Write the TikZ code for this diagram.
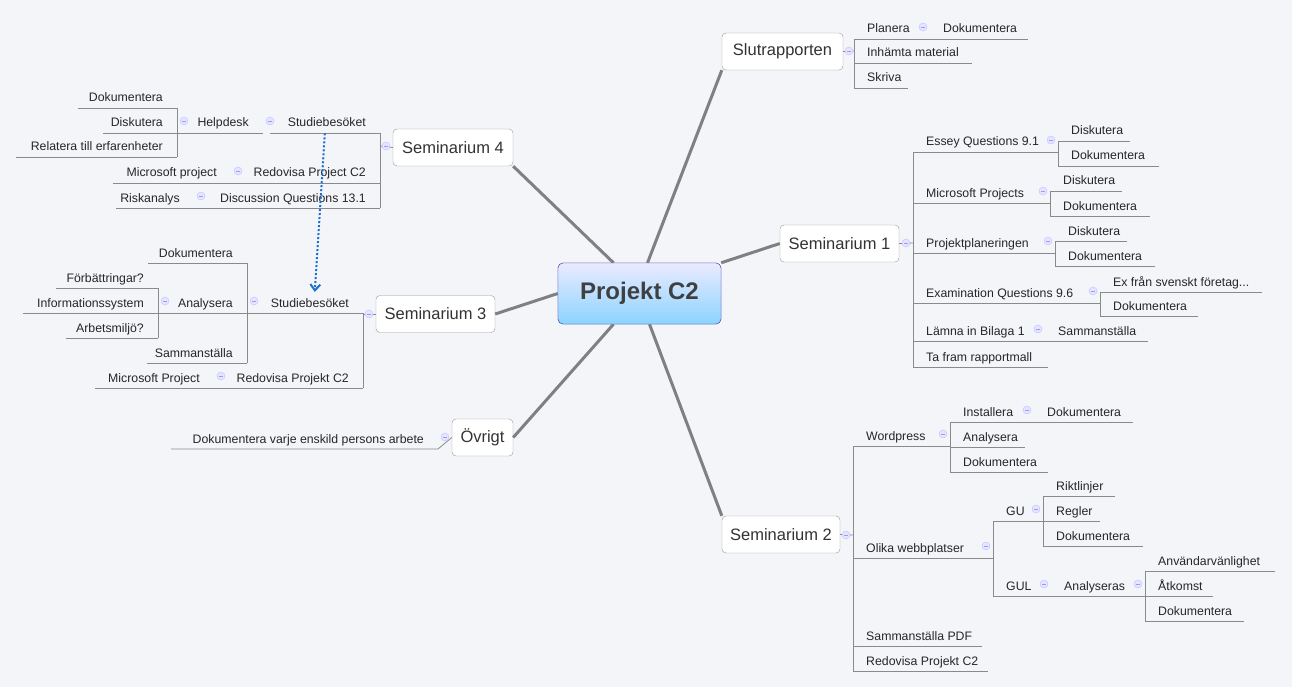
\documentclass[tikz,border=0pt]{standalone}
\usepackage{fontspec}
\setmainfont{Liberation Sans}
\usetikzlibrary{positioning,calc,arrows.meta}
\definecolor{bgcol}{HTML}{F4F5F9}
\definecolor{linecol}{HTML}{8A8A8A}
\definecolor{mapblue}{HTML}{1A6FCF}
\tikzstyle{leaf} = [inner sep=0pt, font=\fontsize{12.3}{14}\selectfont, text=black!85]
\tikzstyle{branch} = [draw=linecol, line width=0.8pt]
\tikzstyle{main} = [draw=gray!80, fill=white, rounded corners=4pt, font=\fontsize{16.5}{19}\selectfont, text=black!80, minimum height=37pt]
\tikzstyle{trunk} = [draw=gray, line width=3pt]
\tikzset{marker/.style={circle, draw=blue!25, fill=blue!10, minimum size=8pt, inner sep=0pt,
    path picture={\draw[blue!40, line width=0.6pt] ($(path picture bounding box.west)+(2pt,0)$) -- ($(path picture bounding box.east)+(-2pt,0)$);}}}
% topic to the right: name, x of vertical, y of line, x of end, text
\newcommand{\topR}[5]{%
    \draw[branch] (#2,#3) -- (#4,#3);
    \node[leaf, anchor=base west] (#1) at (#2+13,#3-6) {#5};}
% topic to the left
\newcommand{\topL}[5]{%
    \draw[branch] (#2,#3) -- (#4,#3);
    \node[leaf, anchor=base east] (#1) at (#2-14,#3-6) {#5};}
\newcommand{\vbar}[3]{\draw[branch] (#1,#2) -- (#1,#3);}
\newcommand{\mkR}[3]{\node[marker] (#1) at (#2-7,#3-12) {};}
\newcommand{\mkL}[3]{\node[marker] (#1) at (#2+7,#3-12) {};}

\begin{document}
\begin{tikzpicture}[x=1pt, y=-1pt]
    \fill[bgcol] (0,0) rectangle (1292,687);
    \useasboundingbox (0,0) rectangle (1292,687);

    % centre and main topics
    \node [draw=blue!45!gray, rounded corners=5pt, top color=blue!8, bottom color=blue!38!cyan!45,
        minimum width=163pt, minimum height=61pt, font=\fontsize{24}{28}\selectfont\bfseries, text=black!75] (root) at (639.5,293.5) {Projekt C2};
    \node [main, minimum width=121pt] (slut) at (782.5,51.5) {Slutrapporten};
    \node [main, minimum width=119pt] (sem1) at (839.5,243.5) {Seminarium 1};
    \node [main, minimum width=118pt] (sem2) at (781,534.5) {Seminarium 2};
    \node [main, minimum width=61pt] (ovr) at (482.5,437.5) {Övrigt};
    \node [main, minimum width=119pt] (sem3) at (435.5,314) {Seminarium 3};
    \node [main, minimum width=120pt] (sem4) at (453,147.5) {Seminarium 4};

    \begin{scope}[on background layer/.try]
    \draw [trunk] ($(root.north)+(8,0)$) -- (slut.south west);
    \draw [trunk] (root.north east) -- (sem1.west);
    \draw [trunk] ($(root.south)+(10,0)$) -- (sem2.north west);
    \draw [trunk] ($(root.south)+(-26,0)$) -- (ovr.east);
    \draw [trunk] (root.west) -- (sem3.east);
    \draw [trunk] ($(root.north)+(-26,0)$) -- (sem4.south east);
    \end{scope}
    \node [draw=gray!80, fill=white, rounded corners=5pt, minimum width=163pt, minimum height=61pt, opacity=0] at (root) {};
    \node [draw=blue!45!gray, rounded corners=5pt, top color=blue!8, bottom color=blue!38!cyan!45,
        minimum width=163pt, minimum height=61pt, font=\fontsize{24}{28}\selectfont\bfseries, text=black!75] at (root) {Projekt C2};

    % Slutrapporten
    \draw[branch] (slut.east) -- (854,51);
    \vbar{854}{39}{88}
    \node[marker] (mslut) at (849,51) {};
    \topR{planera}{854}{39}{930}{Planera}
    \mkR{mplanera}{930}{39}
    \topR{sdok}{930}{39}{1028}{Dokumentera}
    \topR{inhamta}{854}{63}{972}{Inhämta material}
    \topR{skriva}{854}{88}{908}{Skriva}

    % Seminarium 1
    \draw[branch] (sem1.east) -- (913,243);
    \vbar{913}{152}{367}
    \node[marker] (msem1) at (906,243) {};
    \topR{essey}{913}{152}{1058}{Essey Questions 9.1}
    \vbar{1058}{141}{166}
    \mkR{messey}{1058}{152}
    \topR{edis}{1058}{141}{1130}{Diskutera}
    \topR{edok}{1058}{166}{1159}{Dokumentera}
    \topR{msproj}{913}{203}{1050}{Microsoft Projects}
    \vbar{1050}{191}{216}
    \mkR{mmsproj}{1050}{203}
    \topR{mdis}{1050}{191}{1122}{Diskutera}
    \topR{mdok}{1050}{216}{1150}{Dokumentera}
    \topR{pplan}{913}{253}{1055}{Projektplaneringen}
    \vbar{1055}{241}{266}
    \mkR{mpplan}{1055}{253}
    \topR{pdis}{1055}{241}{1127}{Diskutera}
    \topR{pdok}{1055}{266}{1155}{Dokumentera}
    \topR{exam}{913}{303}{1100}{Examination Questions 9.6}
    \vbar{1100}{292}{316}
    \mkR{mexam}{1100}{303}
    \topR{exfr}{1100}{292}{1262}{Ex från svenskt företag...}
    \topR{exdok}{1100}{316}{1198}{Dokumentera}
    \topR{lamna}{913}{341}{1045}{Lämna in Bilaga 1}
    \mkR{mlamna}{1045}{341}
    \topR{samm}{1045}{341}{1148}{Sammanställa}
    \topR{tafram}{913}{367}{1048}{Ta fram rapportmall}

    % Seminarium 2
    \draw[branch] (sem2.east) -- (853,535);
    \vbar{853}{446}{671}
    \node[marker] (msem2) at (846,535) {};
    \topR{wp}{853}{446}{950}{Wordpress}
    \vbar{950}{422}{472}
    \mkR{mwp}{950}{446}
    \topR{inst}{950}{422}{1034}{Installera}
    \mkR{minst}{1034}{422}
    \topR{idok}{1034}{422}{1133}{Dokumentera}
    \topR{wana}{950}{447}{1025}{Analysera}
    \topR{wdok}{950}{472}{1048}{Dokumentera}
    \topR{olika}{853}{558}{993}{Olika webbplatser}
    \vbar{993}{521}{596}
    \mkR{molika}{993}{558}
    \topR{gu}{993}{521}{1043}{GU}
    \vbar{1043}{496}{546}
    \mkR{mgu}{1043}{521}
    \topR{rikt}{1043}{496}{1115}{Riktlinjer}
    \topR{regl}{1043}{521}{1100}{Regler}
    \topR{gdok}{1043}{546}{1143}{Dokumentera}
    \topR{gul}{993}{596}{1051}{GUL}
    \mkR{mgul}{1051}{596}
    \topR{anas}{1051}{596}{1145}{Analyseras}
    \vbar{1145}{571}{621}
    \mkR{manas}{1145}{596}
    \topR{anv}{1145}{571}{1275}{Användarvänlighet}
    \topR{atk}{1145}{596}{1213}{Åtkomst}
    \topR{adok}{1145}{621}{1244}{Dokumentera}
    \topR{spdf}{853}{646}{982}{Sammanställa PDF}
    \topR{redov2}{853}{671}{988}{Redovisa Projekt C2}

    % Seminarium 4
    \draw[branch] (sem4.west) -- (380,146);
    \vbar{380}{133}{208}
    \node[marker] (msem4) at (386,146) {};
    \topL{stud4}{380}{133}{270}{Studiebesöket}
    \mkL{mstud4}{263}{133}
    \topL{help}{263}{133}{177}{Helpdesk}
    \vbar{177}{108}{157}
    \mkL{mhelp}{177}{133}
    \topL{hdok}{177}{108}{78}{Dokumentera}
    \topL{hdis}{177}{133}{103}{Diskutera}
    \topL{relat}{177}{157}{16}{Relatera till erfarenheter}
    \topL{redov4}{380}{183}{231}{Redovisa Project C2}
    \mkL{mredov4}{231}{183}
    \topL{msp4}{231}{183}{113}{Microsoft project}
    \topL{disc}{380}{208}{194}{Discussion Questions 13.1}
    \mkL{mdisc}{194}{208}
    \topL{risk}{194}{208}{116}{Riskanalys}

    % Seminarium 3
    \draw[branch] (sem3.west) -- (363,314);
    \vbar{363}{313}{388}
    \node[marker] (msem3) at (369,314) {};
    \topL{stud3}{363}{313}{247}{Studiebesöket}
    \vbar{247}{263}{363}
    \mkL{mstud3}{247}{313}
    \topL{s3dok}{247}{263}{148}{Dokumentera}
    \topL{s3ana}{247}{313}{158}{Analysera}
    \vbar{158}{288}{338}
    \mkL{ms3ana}{158}{313}
    \topL{forb}{158}{288}{56}{Förbättringar?}
    \topL{info}{158}{313}{23}{Informationssystem}
    \topL{arb}{158}{338}{66}{Arbetsmiljö?}
    \topL{s3samm}{247}{363}{147}{Sammanställa}
    \topL{redov3}{363}{388}{214}{Redovisa Projekt C2}
    \mkL{mredov3}{214}{388}
    \topL{msp3}{214}{388}{95}{Microsoft Project}

    % Övrigt
    \draw[branch] (ovr.west) -- (438,449) -- (171,449);
    \node[marker] (movr) at (445,437) {};
    \node[leaf, anchor=base east] (varje) at (424,443) {Dokumentera varje enskild persons arbete};

    % relation
    \draw[mapblue, line width=2pt, dotted, -{Straight Barb[length=6pt, width=10pt]}]
        ($(stud4.south)+(-2,6)$) -- ($(stud3.north)+(5,-6)$);
\end{tikzpicture}
\end{document}
